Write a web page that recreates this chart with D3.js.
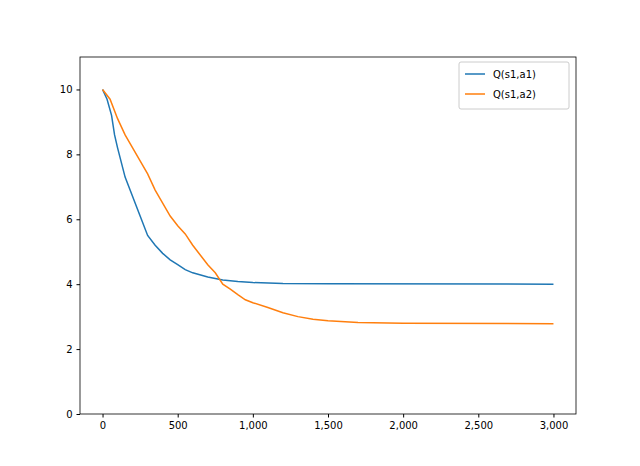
<!DOCTYPE html>
<html><head><meta charset="utf-8">
<script src="https://cdn.jsdelivr.net/npm/d3@7"></script>
<style>body{margin:0;background:#fff}text{font-family:"DejaVu Sans",sans-serif}</style>
</head><body><div id="chart"></div>
<script>
// values
var seriesNames = ['Q(s1,a1)', 'Q(s1,a2)'];
var seriesColors = ['#1f77b4', '#ff7f0e'];
var q1 = [[0,10],[30,9.7],[60,9.2],[80,8.6],[100,8.2],[150,7.3],[200,6.7],[250,6.1],[300,5.5],[350,5.2],[400,4.95],[450,4.75],[500,4.6],[550,4.45],[600,4.35],[700,4.22],[800,4.13],[900,4.08],[1000,4.05],[1200,4.02],[1500,4.01],[3000,4.0]];
var q2 = [[0,10],[50,9.7],[100,9.1],[150,8.6],[200,8.2],[250,7.8],[300,7.4],[350,6.9],[400,6.5],[450,6.1],[500,5.8],[550,5.55],[600,5.2],[650,4.9],[700,4.6],[750,4.35],[800,4.0],[850,3.85],[900,3.68],[950,3.52],[1000,3.43],[1100,3.28],[1200,3.12],[1300,3.0],[1400,2.92],[1500,2.87],[1700,2.82],[2000,2.8],[3000,2.78]];
var xTicks = [0,500,1000,1500,2000,2500,3000];
var yTicks = [0,2,4,6,8,10];

const width = 640, height = 466;
const mLeft = 80, mRight = 576, mTop = 57, mBottom = 414;

var svg = d3.select('#chart').append('svg').attr('width', width).attr('height', height);

var x = d3.scaleLinear().domain([-150, 3150]).range([mLeft, mRight]);
var y = d3.scaleLinear().domain([0, 11]).range([mBottom, mTop]);

svg.append('g').attr('transform', `translate(0,${mBottom})`)
    .call(d3.axisBottom(x).tickValues(xTicks).tickSize(3.5).tickPadding(4))
    .call(g => g.select('.domain').remove())
    .selectAll('text').attr('font-size', 10).attr('fill', '#000');
svg.append('g').attr('transform', `translate(${mLeft},0)`)
    .call(d3.axisLeft(y).tickValues(yTicks).tickSize(3.5).tickPadding(4))
    .call(g => g.select('.domain').remove())
    .selectAll('text').attr('font-size', 10).attr('fill', '#000');

var line = d3.line().x(d => x(d[0])).y(d => y(d[1]));
[q1, q2].forEach((s, i) => {
    svg.append('path').datum(s).attr('d', line).attr('fill', 'none')
        .attr('stroke', seriesColors[i]).attr('stroke-width', 1.5);
});

svg.append('rect').attr('x', mLeft).attr('y', mTop).attr('width', mRight - mLeft).attr('height', mBottom - mTop)
    .attr('fill', 'none').attr('stroke', '#000').attr('stroke-width', 0.8);

// legend
var lg = svg.append('g').attr('transform', 'translate(459,62)');
lg.append('rect').attr('width', 110).attr('height', 47).attr('rx', 2)
    .attr('fill', '#fff').attr('fill-opacity', 0.8).attr('stroke', '#ccc');
seriesNames.forEach((n, i) => {
    lg.append('line').attr('x1', 6).attr('x2', 26).attr('y1', 12 + i * 20).attr('y2', 12 + i * 20)
        .attr('stroke', seriesColors[i]).attr('stroke-width', 1.5);
    lg.append('text').attr('x', 34).attr('y', 16 + i * 20).attr('font-size', 10).text(n);
});
</script></body></html>
